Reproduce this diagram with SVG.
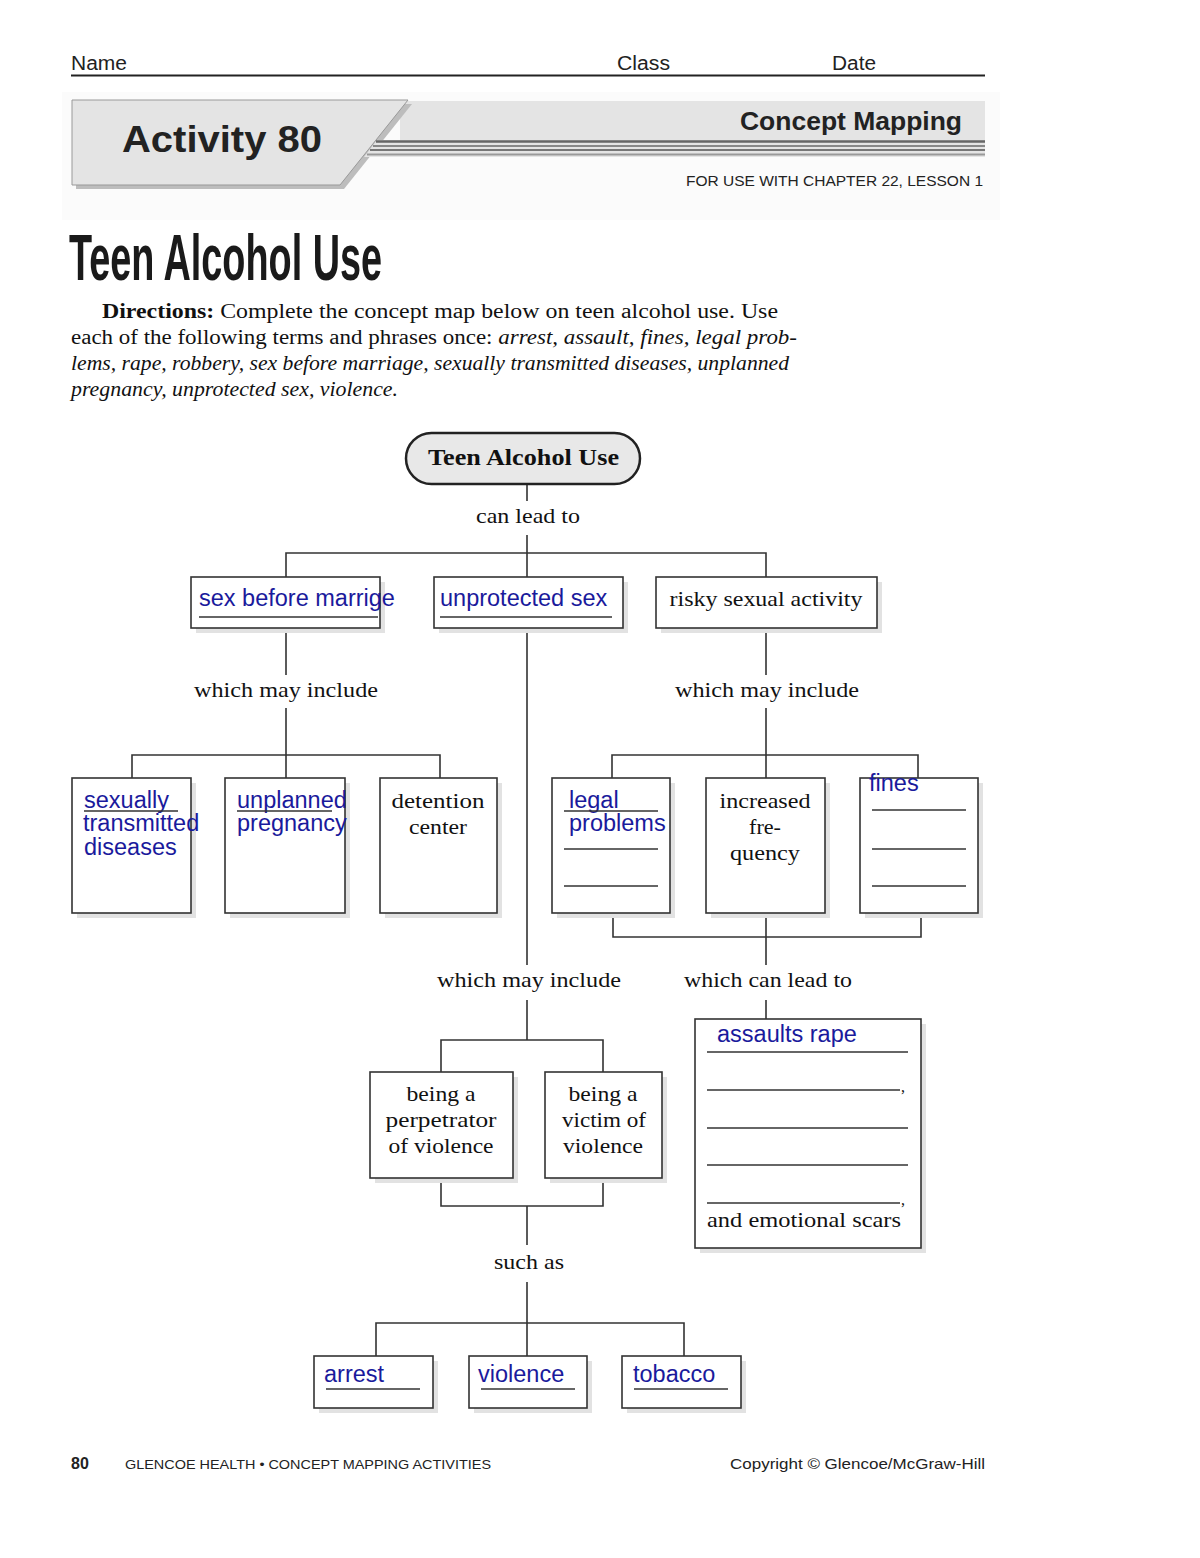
<svg xmlns="http://www.w3.org/2000/svg" width="1200" height="1558" viewBox="0 0 1200 1558">
<style>
.sans{font-family:"Liberation Sans",Arial,sans-serif}
.ser{font-family:"Liberation Serif","DejaVu Serif",serif;fill:#111}
.lbl{font-family:"Liberation Serif","DejaVu Serif",serif;font-size:21px;fill:#111;text-anchor:middle}
.ans{font-family:"Liberation Sans",Arial,sans-serif;font-size:23.5px;fill:#1a1a9c}
.box{fill:#fff;stroke:#333;stroke-width:1.6}
.sh{fill:#e2e2e2}
.ln{stroke:#333;stroke-width:1.6;fill:none}
.ul{stroke:#333;stroke-width:1.3}
</style>
<rect width="1200" height="1558" fill="#fff"/>
<g id="header">
<text class="sans" x="71" y="70" font-size="20" fill="#222" textLength="56" lengthAdjust="spacingAndGlyphs">Name</text>
<text class="sans" x="617" y="70" font-size="20" fill="#222" textLength="53" lengthAdjust="spacingAndGlyphs">Class</text>
<text class="sans" x="832" y="70" font-size="20" fill="#222" textLength="44" lengthAdjust="spacingAndGlyphs">Date</text>
<line x1="71" y1="75.5" x2="985" y2="75.5" stroke="#222" stroke-width="1.8"/>
<rect x="62" y="92" width="938" height="128" fill="#fbfbfb"/>
<rect x="400" y="101" width="585" height="40" fill="#e4e4e4"/>
<polygon points="76,104 412,104 344,189 76,189" fill="#bdbdbd"/>
<polygon points="72,100 408,100 340,185 72,185" fill="#e4e4e4" stroke="#999" stroke-width="1"/>
<polygon points="377,140 985,140 985,157 364,157" fill="#e4e4e4"/>
<line x1="376" y1="141.5" x2="985" y2="141.5" stroke="#666" stroke-width="2.5"/>
<line x1="373" y1="146" x2="985" y2="146" stroke="#888" stroke-width="2"/>
<line x1="370" y1="150" x2="985" y2="150" stroke="#777" stroke-width="2"/>
<line x1="367" y1="154.5" x2="985" y2="154.5" stroke="#999" stroke-width="2"/>
<text class="sans" x="122" y="152" font-size="37" font-weight="bold" fill="#222" textLength="200" lengthAdjust="spacingAndGlyphs">Activity 80</text>
<text class="sans" x="740" y="130" font-size="25" font-weight="bold" fill="#222" textLength="222" lengthAdjust="spacingAndGlyphs">Concept Mapping</text>
<text class="sans" x="983" y="186" font-size="15" fill="#222" text-anchor="end" textLength="297" lengthAdjust="spacingAndGlyphs">FOR USE WITH CHAPTER 22, LESSON 1</text>
</g>
<g id="title">
<text class="sans" x="69" y="280" font-size="64" font-weight="bold" fill="#1a1a1a" textLength="313" lengthAdjust="spacingAndGlyphs">Teen Alcohol Use</text>
<text class="ser" font-size="20"><tspan x="102" y="318" textLength="676" lengthAdjust="spacingAndGlyphs"><tspan font-weight="bold">Directions:</tspan> Complete the concept map below on teen alcohol use. Use</tspan></text>
<text class="ser" font-size="20" x="71" y="344" textLength="726" lengthAdjust="spacingAndGlyphs">each of the following terms and phrases once: <tspan font-style="italic">arrest, assault, fines, legal prob-</tspan></text>
<text class="ser" font-size="20" font-style="italic" x="71" y="370" textLength="718" lengthAdjust="spacingAndGlyphs">lems, rape, robbery, sex before marriage, sexually transmitted diseases, unplanned</text>
<text class="ser" font-size="20" font-style="italic" x="71" y="396" textLength="327" lengthAdjust="spacingAndGlyphs">pregnancy, unprotected sex, violence.</text>
</g>
<g id="connectors">
<path class="ln" d="M527,485 V501 M527,535 V577 M286,577 V553 H766 V577"/>
<path class="ln" d="M286,628 V675 M286,708 V778 M132,778 V755 H440 V778"/>
<path class="ln" d="M766,628 V675 M766,708 V778 M612,778 V755 H918 V778"/>
<path class="ln" d="M527,628 V965 M527,1000 V1040 M441,1072 V1040 H603 V1072"/>
<path class="ln" d="M613,913 V937 H921 V913 M766,913 V965 M766,1000 V1019"/>
<path class="ln" d="M441,1178 V1206 H603 V1178 M527,1206 V1245 M527,1282 V1356 M376,1356 V1323 H684 V1356"/>
</g>
<g class="lbl">
<text x="528" y="523" textLength="104" lengthAdjust="spacingAndGlyphs">can lead to</text>
<text x="286" y="697" textLength="184" lengthAdjust="spacingAndGlyphs">which may include</text>
<text x="767" y="697" textLength="184" lengthAdjust="spacingAndGlyphs">which may include</text>
<text x="529" y="987" textLength="184" lengthAdjust="spacingAndGlyphs">which may include</text>
<text x="768" y="987" textLength="168" lengthAdjust="spacingAndGlyphs">which can lead to</text>
<text x="529" y="1269" textLength="70" lengthAdjust="spacingAndGlyphs">such as</text>
</g>
<g id="root">
<rect x="406" y="433" width="234" height="51" rx="25.5" fill="#e8e8e8" stroke="#222" stroke-width="2.5"/>
<text class="ser" x="523.5" y="465" font-size="23" font-weight="bold" text-anchor="middle" textLength="191" lengthAdjust="spacingAndGlyphs">Teen Alcohol Use</text>
</g>
<g id="n-sexbefore">
<rect class="sh" x="196" y="582" width="189" height="51"/>
<rect class="box" x="191" y="577" width="189" height="51"/>
<text class="ans" x="199" y="606">sex before marrige</text>
<line class="ul" x1="199" y1="617" x2="378" y2="617"/>
</g>
<g id="n-unprotected">
<rect class="sh" x="439" y="582" width="189" height="51"/>
<rect class="box" x="434" y="577" width="189" height="51"/>
<text class="ans" x="440" y="606">unprotected sex</text>
<line class="ul" x1="440" y1="617" x2="612" y2="617"/>
</g>
<g id="n-risky">
<rect class="sh" x="661" y="582" width="221" height="51"/>
<rect class="box" x="656" y="577" width="221" height="51"/>
<text class="lbl" x="766" y="606" textLength="193" lengthAdjust="spacingAndGlyphs">risky sexual activity</text>
</g>
<g id="n-std">
<rect class="sh" x="77" y="783" width="119" height="135"/>
<rect class="box" x="72" y="778" width="119" height="135"/>
<text class="ans" x="84" y="808">sexually</text>
<line class="ul" x1="84" y1="811" x2="178" y2="811"/>
<text class="ans" x="83" y="831">transmitted</text>
<text class="ans" x="84" y="855">diseases</text>
</g>
<g id="n-pregnancy">
<rect class="sh" x="230" y="783" width="120" height="135"/>
<rect class="box" x="225" y="778" width="120" height="135"/>
<text class="ans" x="237" y="808">unplanned</text>
<line class="ul" x1="237" y1="811" x2="332" y2="811"/>
<text class="ans" x="237" y="831">pregnancy</text>
</g>
<g id="n-detention">
<rect class="sh" x="385" y="783" width="117" height="135"/>
<rect class="box" x="380" y="778" width="117" height="135"/>
<text class="lbl" x="438" y="808" textLength="93" lengthAdjust="spacingAndGlyphs">detention</text>
<text class="lbl" x="438" y="834" textLength="58" lengthAdjust="spacingAndGlyphs">center</text>
</g>
<g id="n-legal">
<rect class="sh" x="557" y="783" width="118" height="135"/>
<rect class="box" x="552" y="778" width="118" height="135"/>
<text class="ans" x="569" y="808">legal</text>
<line class="ul" x1="564" y1="811" x2="658" y2="811"/>
<text class="ans" x="569" y="831">problems</text>
<line class="ul" x1="564" y1="849" x2="658" y2="849"/>
<line class="ul" x1="564" y1="886" x2="658" y2="886"/>
</g>
<g id="n-frequency">
<rect class="sh" x="711" y="783" width="119" height="135"/>
<rect class="box" x="706" y="778" width="119" height="135"/>
<text class="lbl" x="765" y="808" textLength="91" lengthAdjust="spacingAndGlyphs">increased</text>
<text class="lbl" x="765" y="834" textLength="32" lengthAdjust="spacingAndGlyphs">fre-</text>
<text class="lbl" x="765" y="860" textLength="70" lengthAdjust="spacingAndGlyphs">quency</text>
</g>
<g id="n-fines">
<rect class="sh" x="865" y="783" width="118" height="135"/>
<rect class="box" x="860" y="778" width="118" height="135"/>
<text class="ans" x="869" y="791">fines</text>
<line class="ul" x1="872" y1="810" x2="966" y2="810"/>
<line class="ul" x1="872" y1="849" x2="966" y2="849"/>
<line class="ul" x1="872" y1="886" x2="966" y2="886"/>
</g>
<g id="n-assaults">
<rect class="sh" x="700" y="1024" width="226" height="229"/>
<rect class="box" x="695" y="1019" width="226" height="229"/>
<text class="ans" x="717" y="1042">assaults rape</text>
<line class="ul" x1="707" y1="1052" x2="908" y2="1052"/>
<line class="ul" x1="707" y1="1090" x2="900" y2="1090"/>
<text class="ser" x="901" y="1092" font-size="16">,</text>
<line class="ul" x1="707" y1="1128" x2="908" y2="1128"/>
<line class="ul" x1="707" y1="1165" x2="908" y2="1165"/>
<line class="ul" x1="707" y1="1203" x2="900" y2="1203"/>
<text class="ser" x="901" y="1205" font-size="16">,</text>
<text class="ser" x="707" y="1227" font-size="21" textLength="194" lengthAdjust="spacingAndGlyphs">and emotional scars</text>
</g>
<g id="n-perpetrator">
<rect class="sh" x="375" y="1077" width="143" height="106"/>
<rect class="box" x="370" y="1072" width="143" height="106"/>
<text class="lbl" x="441" y="1101" textLength="69" lengthAdjust="spacingAndGlyphs">being a</text>
<text class="lbl" x="441" y="1127" textLength="111" lengthAdjust="spacingAndGlyphs">perpetrator</text>
<text class="lbl" x="441" y="1153" textLength="105" lengthAdjust="spacingAndGlyphs">of violence</text>
</g>
<g id="n-victim">
<rect class="sh" x="550" y="1077" width="117" height="106"/>
<rect class="box" x="545" y="1072" width="117" height="106"/>
<text class="lbl" x="603" y="1101" textLength="69" lengthAdjust="spacingAndGlyphs">being a</text>
<text class="lbl" x="604" y="1127" textLength="84" lengthAdjust="spacingAndGlyphs">victim of</text>
<text class="lbl" x="603" y="1153" textLength="80" lengthAdjust="spacingAndGlyphs">violence</text>
</g>
<g id="n-arrest">
<rect class="sh" x="319" y="1361" width="119" height="52"/>
<rect class="box" x="314" y="1356" width="119" height="52"/>
<text class="ans" x="324" y="1382">arrest</text>
<line class="ul" x1="326" y1="1389" x2="420" y2="1389"/>
</g>
<g id="n-violence">
<rect class="sh" x="474" y="1361" width="118" height="52"/>
<rect class="box" x="469" y="1356" width="118" height="52"/>
<text class="ans" x="478" y="1382">violence</text>
<line class="ul" x1="481" y1="1389" x2="575" y2="1389"/>
</g>
<g id="n-tobacco">
<rect class="sh" x="627" y="1361" width="119" height="52"/>
<rect class="box" x="622" y="1356" width="119" height="52"/>
<text class="ans" x="633" y="1382">tobacco</text>
<line class="ul" x1="634" y1="1389" x2="728" y2="1389"/>
</g>
<g id="footer">
<text class="sans" x="71" y="1469" font-size="16" font-weight="bold" fill="#222">80</text>
<text class="sans" x="125" y="1469" font-size="13" fill="#222" textLength="366" lengthAdjust="spacingAndGlyphs">GLENCOE HEALTH • CONCEPT MAPPING ACTIVITIES</text>
<text class="sans" x="985" y="1469" font-size="15" fill="#222" text-anchor="end" textLength="255" lengthAdjust="spacingAndGlyphs">Copyright © Glencoe/McGraw-Hill</text>
</g>
</svg>
